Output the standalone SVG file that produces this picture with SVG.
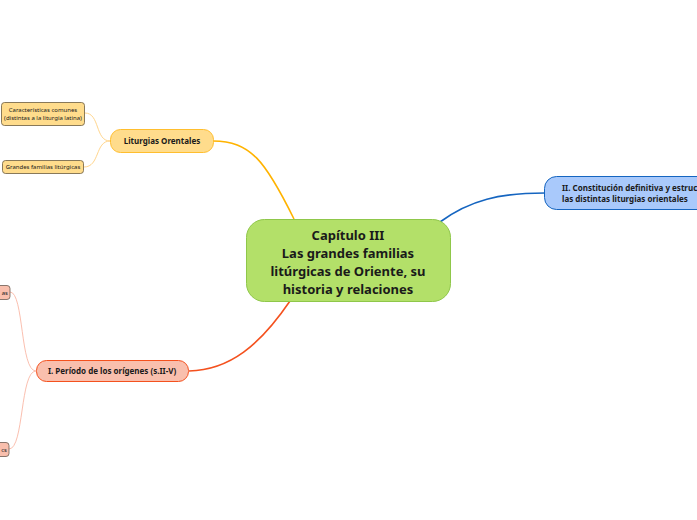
<svg xmlns="http://www.w3.org/2000/svg" width="697" height="520" viewBox="0 0 697 520">
<style>
text{font-family:"Noto Sans","Open Sans","DejaVu Sans",sans-serif;fill:#1a1a1a}
.b{font-weight:bold}
.main{font-size:13px;font-weight:bold;text-anchor:middle}
.t1{font-size:8px;font-weight:bold}
.t2{font-size:6px}
.conn{fill:none}
</style>
<rect width="697" height="520" fill="#ffffff"/>
<g id="connectors">
<path class="conn" d="M213,141 C250,141 265,160 294,219" stroke="#ffb300" stroke-width="1.6"/>
<path class="conn" d="M440,222 C470,200 500,193 545,193" stroke="#1565c0" stroke-width="1.6"/>
<path class="conn" d="M290,301 C260,345 230,370 189,371" stroke="#f4511e" stroke-width="1.6"/>
<path class="conn" d="M110,141 C95,141 100,113 85,113" stroke="#ffd080" stroke-width="0.9"/>
<path class="conn" d="M110,141 C95,141 100,167 84,167" stroke="#ffd080" stroke-width="0.9"/>
<path class="conn" d="M36,371 C20,371 24,292 10,292" stroke="#f9b8a6" stroke-width="0.9"/>
<path class="conn" d="M36,371 C20,371 24,449 9,449" stroke="#f9b8a6" stroke-width="0.9"/>
</g>
<g id="central">
<rect x="246.5" y="219.5" width="204" height="82" rx="18" fill="#b3e069" stroke="#8fc74a" stroke-width="1"/>
<text class="main" x="348" y="240">Capítulo III</text>
<text class="main" x="348" y="258">Las grandes familias</text>
<text class="main" x="348" y="276">litúrgicas de Oriente, su</text>
<text class="main" x="348" y="294">historia y relaciones</text>
</g>
<g id="liturgias">
<rect x="110.5" y="129.5" width="103" height="23" rx="10" fill="#ffdc8c" stroke="#ffbe2e" stroke-width="1"/>
<text class="t1" x="162" y="144" text-anchor="middle">Liturgias Orentales</text>
</g>
<g id="caracteristicas">
<rect x="1.5" y="102.5" width="83" height="23" rx="3" fill="#ffdc8c" stroke="#6b5a3e" stroke-width="0.8"/>
<text class="t2" x="43" y="112" text-anchor="middle">Características comunes</text>
<text class="t2" x="43" y="120" text-anchor="middle">(distintas a la liturgia latina)</text>
</g>
<g id="grandes">
<rect x="2.5" y="160.5" width="81" height="13" rx="3" fill="#ffdc8c" stroke="#6b5a3e" stroke-width="0.8"/>
<text class="t2" x="43" y="169" text-anchor="middle">Grandes familias litúrgicas</text>
</g>
<g id="constitucion">
<rect x="544.5" y="176.5" width="180" height="33" rx="12" fill="#a9c9fb" stroke="#1565c0" stroke-width="1"/>
<text class="t1" x="562" y="191">II. Constitución definitiva y estruc</text>
<text class="t1" x="562" y="202">las distintas liturgias orientales</text>
</g>
<g id="periodo">
<rect x="36.5" y="360.5" width="152" height="21" rx="10" fill="#f9bfad" stroke="#f4511e" stroke-width="1"/>
<text class="t1" x="112" y="374" text-anchor="middle">I. Período de los orígenes (s.II-V)</text>
</g>
<g id="sub1">
<rect x="-20" y="285.5" width="30" height="14" rx="3" fill="#f9bfad" stroke="#6b5a52" stroke-width="0.8"/>
<text class="t2" x="8" y="295" text-anchor="end">as</text>
</g>
<g id="sub2">
<rect x="-20" y="442.5" width="29" height="14" rx="3" fill="#f9bfad" stroke="#6b5a52" stroke-width="0.8"/>
<text class="t2" x="7" y="452" text-anchor="end">cs</text>
</g>
</svg>
